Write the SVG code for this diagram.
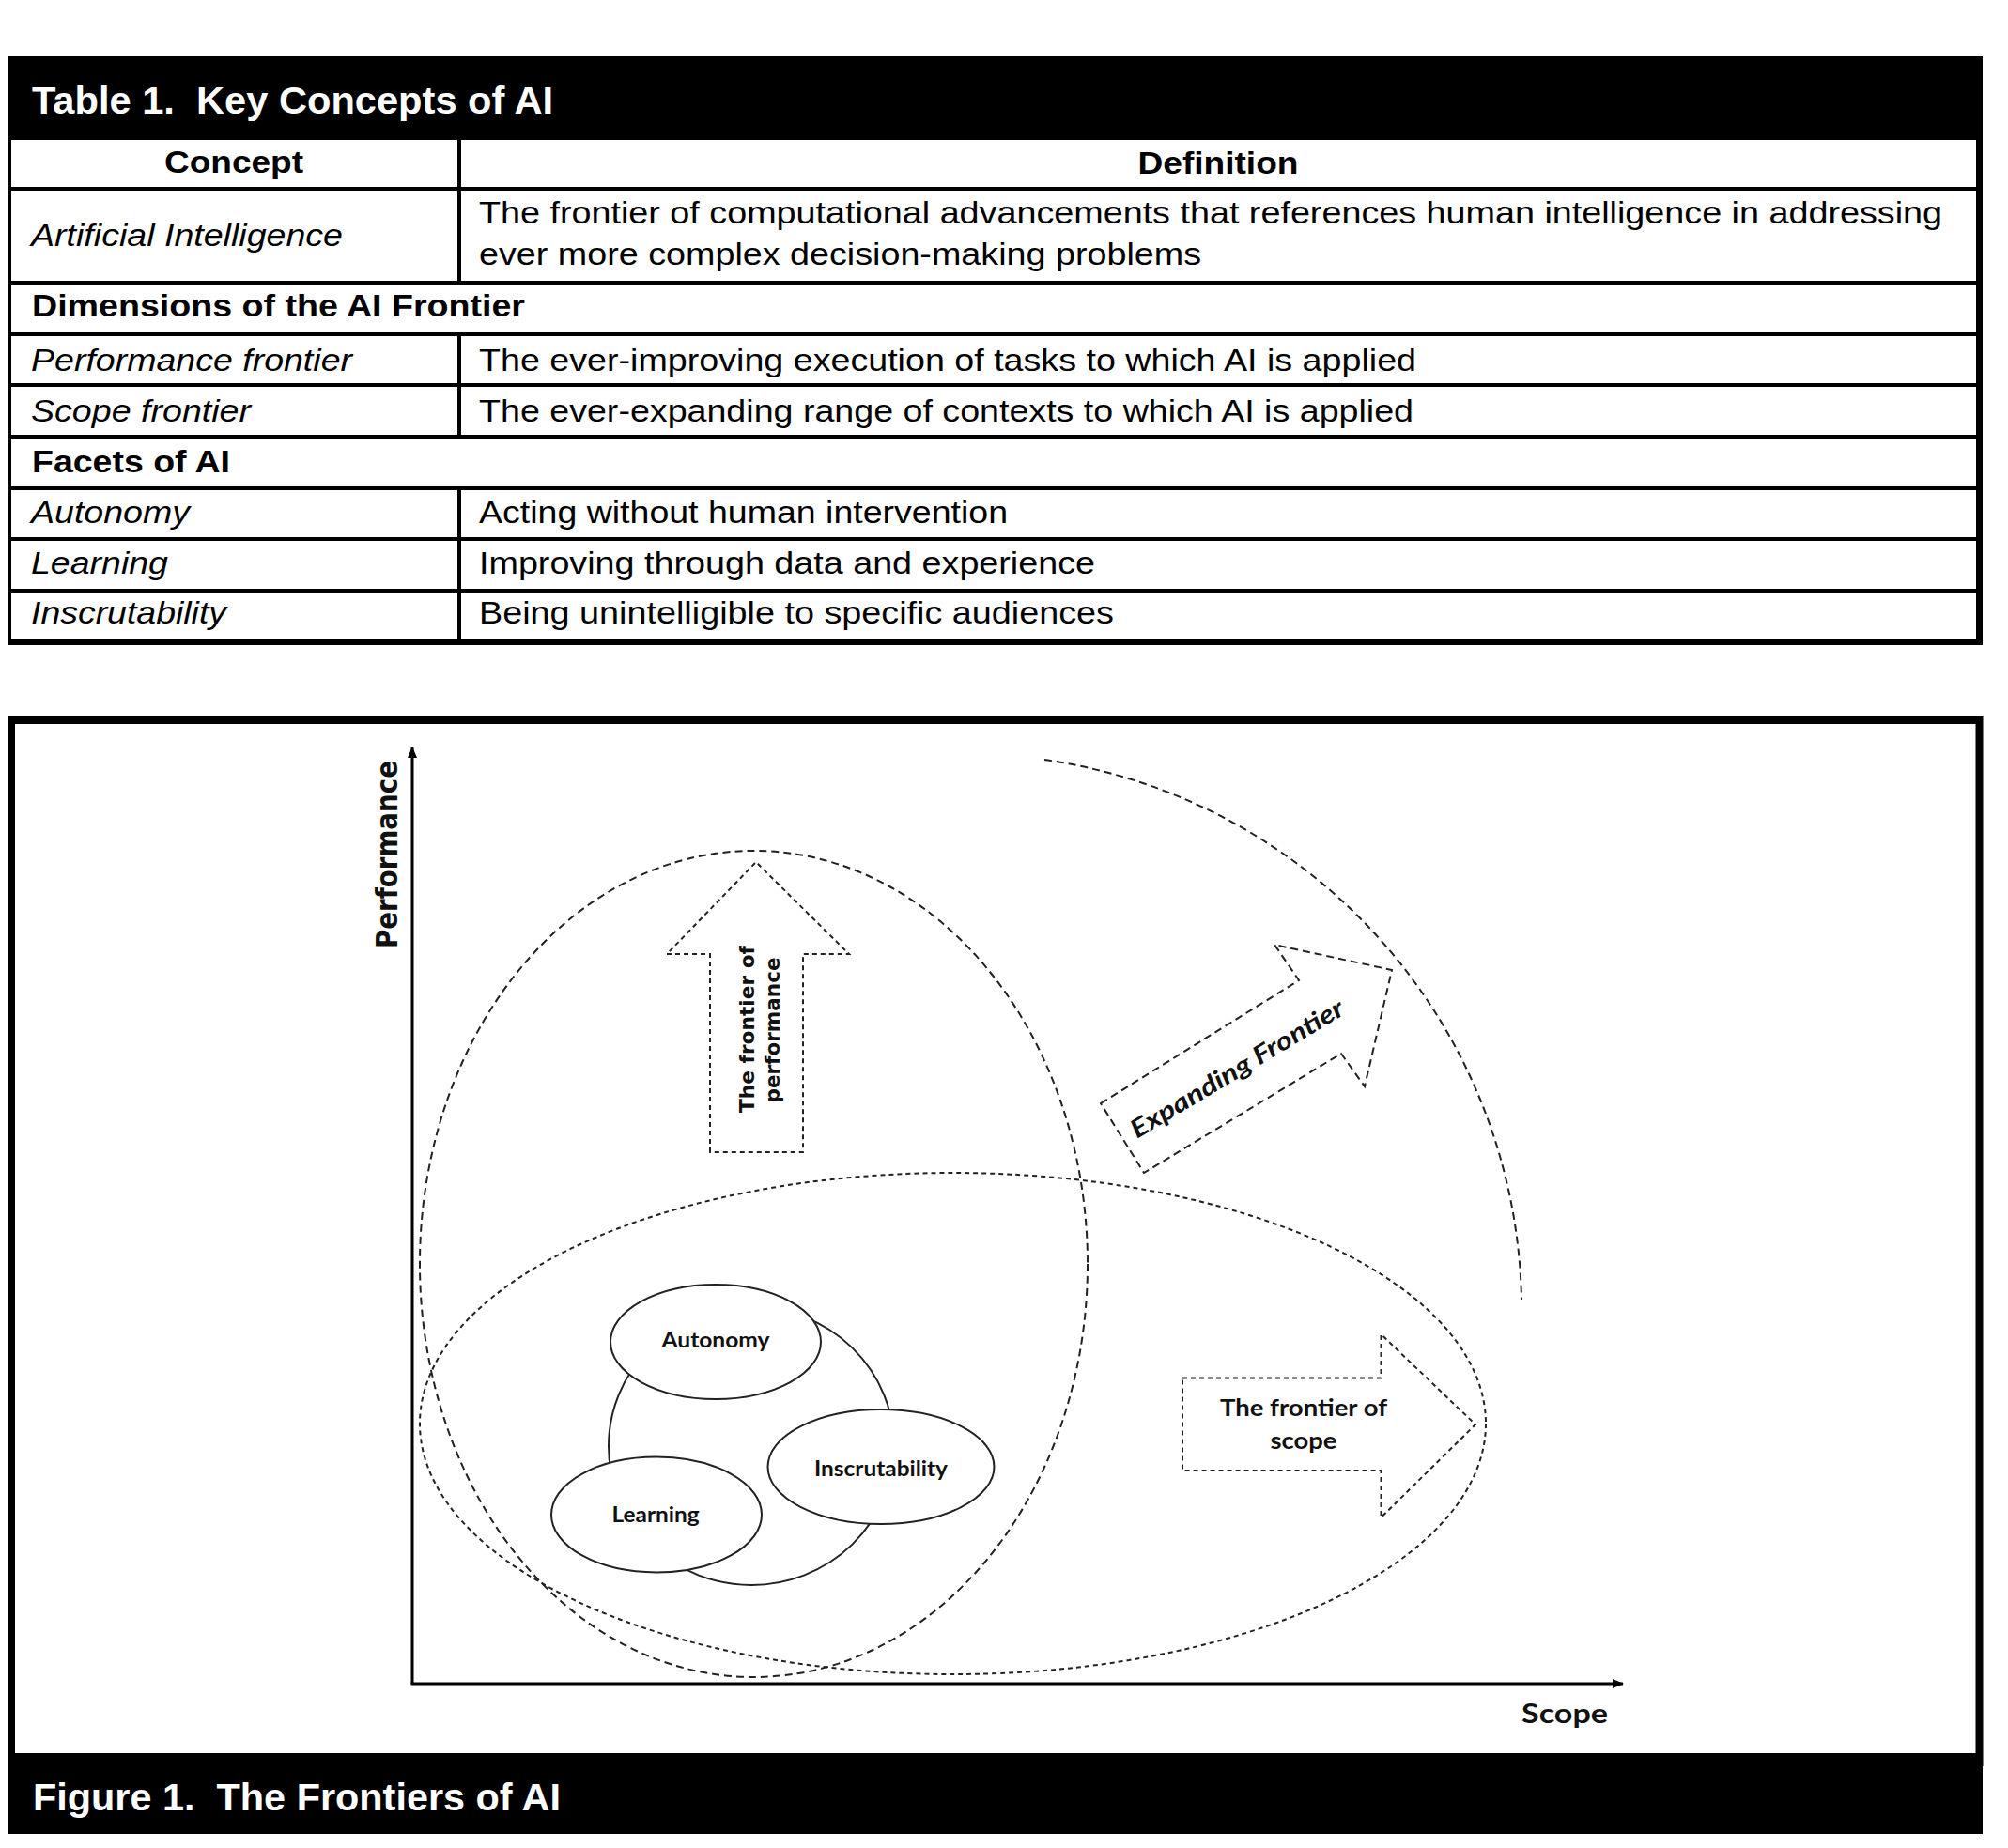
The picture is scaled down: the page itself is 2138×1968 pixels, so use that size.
<svg xmlns="http://www.w3.org/2000/svg" width="2138" height="1968" viewBox="0 0 2138 1968">
<style>
.t{font-family:"Liberation Sans",Arial,sans-serif;font-size:33px;fill:#000}
.b{font-weight:bold}
.i{font-style:italic}
.title{font-family:"Liberation Sans",Arial,sans-serif;font-size:40px;font-weight:bold;fill:#fff;white-space:pre}
.ln{stroke:#000;stroke-width:4;fill:none}
.lbl{font-family:Lato,"Open Sans",sans-serif;font-weight:bold;fill:#111}
.vl{font-family:"DejaVu Sans",Verdana,sans-serif;font-weight:bold;fill:#111}
.d1{fill:none;stroke:#222;stroke-width:2;stroke-dasharray:8 5}
.d2{fill:none;stroke:#222;stroke-width:2;stroke-dasharray:5 4}
.fac{fill:#fff;stroke:#222;stroke-width:2}
.axis{stroke:#000;stroke-width:3;fill:none}
</style>
<defs>
<marker id="ah" viewBox="0 0 12 10" refX="11" refY="5" markerWidth="12" markerHeight="10" markerUnits="userSpaceOnUse" orient="auto">
<path d="M0,0 L12,5 L0,10 z" fill="#000"/>
</marker>
</defs>
<rect width="2138" height="1968" fill="#fff"/>

<g id="table">
<rect x="8" y="60" width="2103" height="89" fill="#000"/>
<text class="title" x="34" y="121" xml:space="preserve" textLength="555" lengthAdjust="spacingAndGlyphs">Table 1.  Key Concepts of AI</text>
<line class="ln" x1="10" y1="147" x2="10" y2="686"/>
<line x1="2107.5" y1="147" x2="2107.5" y2="687" stroke="#000" stroke-width="7"/>
<line x1="8" y1="683.5" x2="2111" y2="683.5" stroke="#000" stroke-width="7"/>
<line class="ln" x1="8" y1="201" x2="2111" y2="201"/>
<line class="ln" x1="8" y1="301" x2="2111" y2="301"/>
<line class="ln" x1="8" y1="356" x2="2111" y2="356"/>
<line class="ln" x1="8" y1="410" x2="2111" y2="410"/>
<line class="ln" x1="8" y1="465" x2="2111" y2="465"/>
<line class="ln" x1="8" y1="520" x2="2111" y2="520"/>
<line class="ln" x1="8" y1="574" x2="2111" y2="574"/>
<line class="ln" x1="8" y1="629" x2="2111" y2="629"/>
<line class="ln" x1="489" y1="149" x2="489" y2="301"/>
<line class="ln" x1="489" y1="356" x2="489" y2="465"/>
<line class="ln" x1="489" y1="520" x2="489" y2="680"/>
<text class="t b" x="249" y="184" text-anchor="middle" textLength="148" lengthAdjust="spacingAndGlyphs">Concept</text>
<text class="t b" x="1297" y="185" text-anchor="middle" textLength="171" lengthAdjust="spacingAndGlyphs">Definition</text>
<text class="t i" x="33" y="262" textLength="332" lengthAdjust="spacingAndGlyphs">Artificial Intelligence</text>
<text class="t" x="510" y="238" textLength="1558" lengthAdjust="spacingAndGlyphs">The frontier of computational advancements that references human intelligence in addressing</text>
<text class="t" x="510" y="282" textLength="769" lengthAdjust="spacingAndGlyphs">ever more complex decision-making problems</text>
<text class="t b" x="34" y="337" textLength="525" lengthAdjust="spacingAndGlyphs">Dimensions of the AI Frontier</text>
<text class="t i" x="33" y="395" textLength="342" lengthAdjust="spacingAndGlyphs">Performance frontier</text>
<text class="t" x="510" y="395" textLength="998" lengthAdjust="spacingAndGlyphs">The ever-improving execution of tasks to which AI is applied</text>
<text class="t i" x="33" y="449" textLength="234" lengthAdjust="spacingAndGlyphs">Scope frontier</text>
<text class="t" x="510" y="449" textLength="995" lengthAdjust="spacingAndGlyphs">The ever-expanding range of contexts to which AI is applied</text>
<text class="t b" x="34" y="503" textLength="211" lengthAdjust="spacingAndGlyphs">Facets of AI</text>
<text class="t i" x="33" y="557" textLength="169" lengthAdjust="spacingAndGlyphs">Autonomy</text>
<text class="t" x="510" y="557" textLength="563" lengthAdjust="spacingAndGlyphs">Acting without human intervention</text>
<text class="t i" x="33" y="611" textLength="146" lengthAdjust="spacingAndGlyphs">Learning</text>
<text class="t" x="510" y="611" textLength="656" lengthAdjust="spacingAndGlyphs">Improving through data and experience</text>
<text class="t i" x="33" y="664" textLength="208" lengthAdjust="spacingAndGlyphs">Inscrutability</text>
<text class="t" x="510" y="664" textLength="676" lengthAdjust="spacingAndGlyphs">Being unintelligible to specific audiences</text>
</g>

<g id="figure-frame">
<rect x="12" y="767" width="2095.5" height="1110" fill="none" stroke="#000" stroke-width="8"/>
<rect x="8" y="1867" width="2103" height="86" fill="#000"/>
<text class="title" x="35" y="1928" xml:space="preserve" textLength="562" lengthAdjust="spacingAndGlyphs">Figure 1.  The Frontiers of AI</text>
</g>

<g id="connectors">
<line class="axis" x1="439" y1="1793" x2="439" y2="796" marker-end="url(#ah)"/>
<line class="axis" x1="437.5" y1="1793" x2="1728" y2="1793" marker-end="url(#ah)"/>
</g>

<g id="axis-labels">
<text class="vl" transform="translate(423,910) scale(1.15,1) rotate(-90)" text-anchor="middle" font-size="28" textLength="200" lengthAdjust="spacingAndGlyphs">Performance</text>
<text class="lbl" x="1666" y="1835" text-anchor="middle" font-size="28" textLength="92" lengthAdjust="spacingAndGlyphs">Scope</text>
</g>

<g id="outer-frontier">
<path class="d1" d="M1112,809 A592,592 0 0 1 1620,1384"/>
</g>

<g id="performance-frontier">
<ellipse class="d1" cx="802.5" cy="1346" rx="355.5" ry="440"/>
</g>

<g id="scope-frontier">
<ellipse class="d2" cx="1014.5" cy="1516" rx="567.5" ry="267"/>
</g>

<g id="arrow-performance">
<polygon class="d2" points="756,1227 756,1016 710,1016 805,918 904,1016 855,1016 855,1227"/>
<text class="vl" transform="translate(803,1096) rotate(-90)" text-anchor="middle" font-size="22" textLength="178" lengthAdjust="spacingAndGlyphs">The frontier of</text>
<text class="vl" transform="translate(830,1097) rotate(-90)" text-anchor="middle" font-size="22" textLength="155" lengthAdjust="spacingAndGlyphs">performance</text>
</g>

<g id="arrow-expanding">
<polygon class="d1" points="1172,1175 1383,1044 1357,1006 1482,1033 1453,1157 1428,1122 1218,1249"/>
<text class="lbl" transform="translate(1322,1146) rotate(-31)" text-anchor="middle" font-size="27" font-style="italic" textLength="260" lengthAdjust="spacingAndGlyphs">Expanding Frontier</text>
</g>

<g id="arrow-scope">
<polygon class="d2" points="1259,1467.5 1470.5,1467.5 1470.5,1421 1571,1517 1470.5,1616 1470.5,1566 1259,1566"/>
<text class="lbl" x="1388" y="1508" text-anchor="middle" font-size="24" textLength="178" lengthAdjust="spacingAndGlyphs">The frontier of</text>
<text class="lbl" x="1388" y="1543" text-anchor="middle" font-size="24" textLength="71" lengthAdjust="spacingAndGlyphs">scope</text>
</g>

<g id="ai-core">
<ellipse cx="800" cy="1540" rx="152" ry="148" fill="#fff" stroke="#222" stroke-width="2"/>
</g>

<g id="node-autonomy">
<ellipse class="fac" cx="762" cy="1429" rx="112" ry="61"/>
<text class="lbl" x="762" y="1435" text-anchor="middle" font-size="22" textLength="115" lengthAdjust="spacingAndGlyphs">Autonomy</text>
</g>

<g id="node-learning">
<ellipse class="fac" cx="699" cy="1613" rx="112" ry="61.5"/>
<text class="lbl" x="698" y="1621" text-anchor="middle" font-size="22" textLength="93" lengthAdjust="spacingAndGlyphs">Learning</text>
</g>

<g id="node-inscrutability">
<ellipse class="fac" cx="938" cy="1562" rx="120.5" ry="61"/>
<text class="lbl" x="938" y="1572" text-anchor="middle" font-size="22" textLength="142" lengthAdjust="spacingAndGlyphs">Inscrutability</text>
</g>
</svg>
